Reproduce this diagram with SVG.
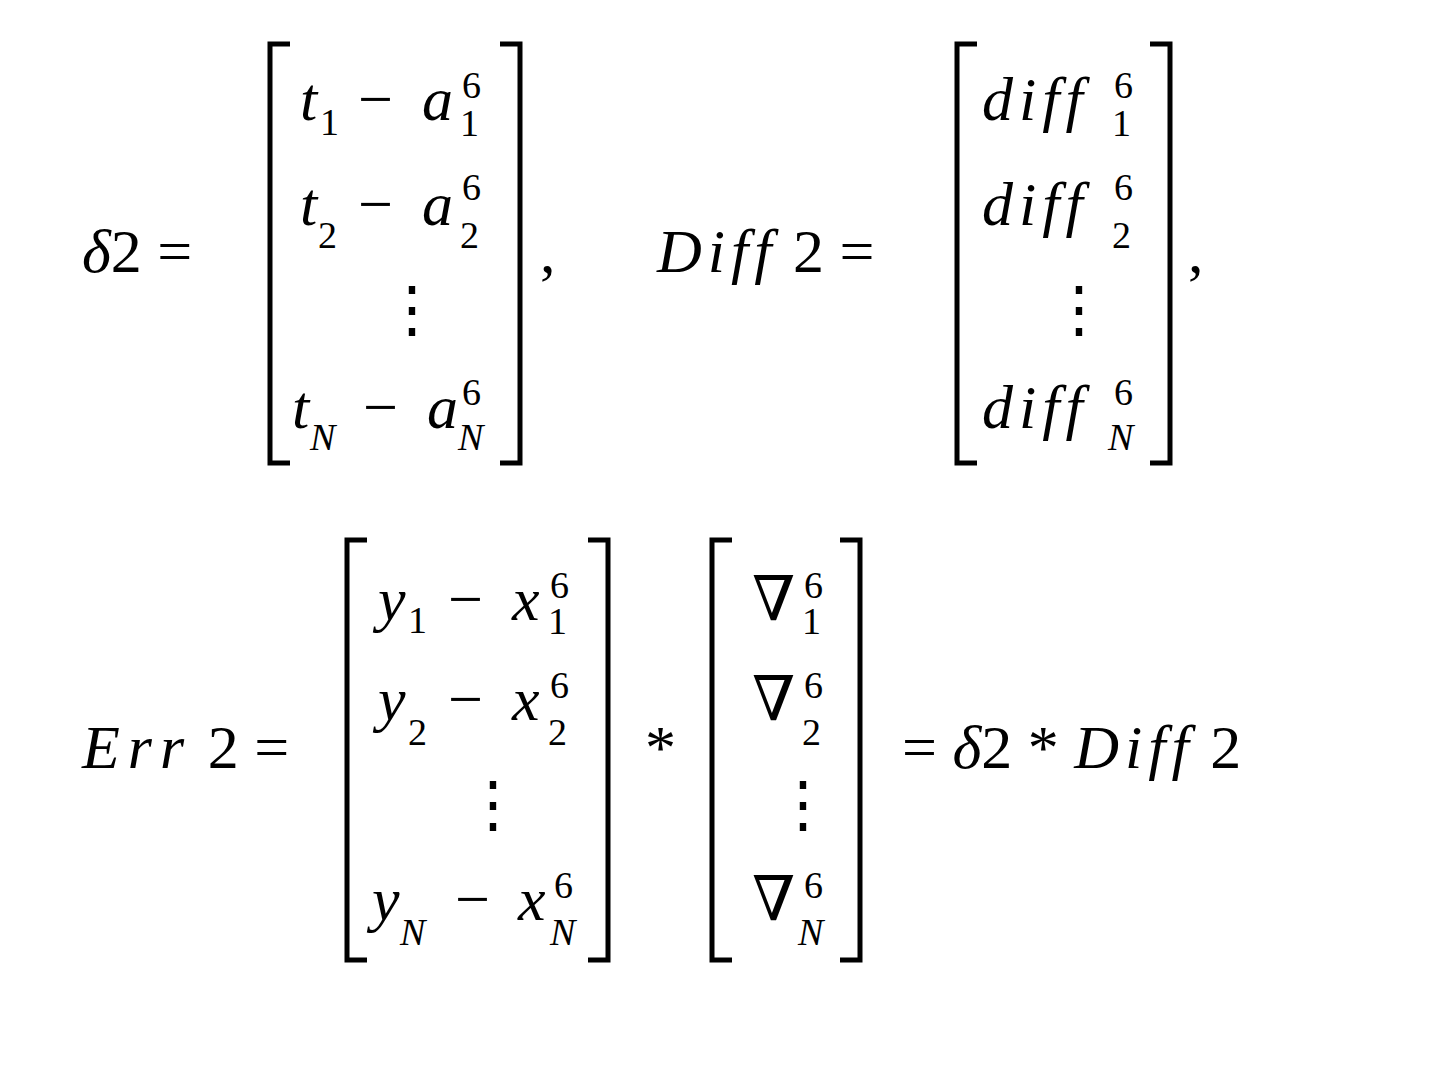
<svg xmlns="http://www.w3.org/2000/svg" width="1455" height="1084" viewBox="0 0 1455 1084">
<style>
text{font-family:"Liberation Serif","Times New Roman","DejaVu Serif",serif;font-variant-ligatures:none}
.m{font-size:62px;fill:#000}
.i{font-style:italic}
.s{font-size:38px;fill:#000}
.b{fill:none;stroke:#000;stroke-width:5}
</style>
<rect width="1455" height="1084" fill="#fff"/>
<text class="m" x="82" y="272"><tspan class="i">δ</tspan>2 =</text>
<path class="b" d="M290,44 H270 V463 H290 M500,44 H520 V463 H500"/>
<text class="m i" x="300" y="120">t</text><text class="s" x="320" y="135">1</text>
<text class="m" x="358" y="120">−</text>
<text class="m i" x="422" y="120">a</text><text class="s" x="462" y="98">6</text><text class="s" x="460" y="136">1</text>
<text class="m i" x="300" y="225">t</text><text class="s" x="318" y="248">2</text>
<text class="m" x="358" y="225">−</text>
<text class="m i" x="422" y="225">a</text><text class="s" x="462" y="200">6</text><text class="s" x="460" y="248">2</text>
<text class="m" x="381" y="330">⋮</text>
<text class="m i" x="292" y="428">t</text><text class="s i" x="310" y="450">N</text>
<text class="m" x="363" y="428">−</text>
<text class="m i" x="427" y="428">a</text><text class="s" x="462" y="405">6</text><text class="s i" x="458" y="450">N</text>
<text class="m" x="540" y="272">,</text>
<text class="m" x="657" y="272"><tspan class="i" letter-spacing="6">Diff</tspan> 2 =</text>
<path class="b" d="M977,44 H957 V463 H977 M1150,44 H1170 V463 H1150"/>
<text class="m i" x="982" y="120" letter-spacing="6">diff</text><text class="s" x="1114" y="98">6</text><text class="s" x="1112" y="136">1</text>
<text class="m i" x="982" y="225" letter-spacing="6">diff</text><text class="s" x="1114" y="200">6</text><text class="s" x="1112" y="248">2</text>
<text class="m" x="1048" y="330">⋮</text>
<text class="m i" x="982" y="428" letter-spacing="6">diff</text><text class="s" x="1114" y="405">6</text><text class="s i" x="1108" y="450">N</text>
<text class="m" x="1188" y="272">,</text>
<text class="m" x="82" y="768"><tspan class="i" letter-spacing="8">Err</tspan> 2 =</text>
<path class="b" d="M367,540 H347 V960 H367 M588,540 H608 V960 H588"/>
<text class="m i" x="378" y="620">y</text><text class="s" x="408" y="633">1</text>
<text class="m" x="448" y="620">−</text>
<text class="m i" x="512" y="620">x</text><text class="s" x="550" y="598">6</text><text class="s" x="548" y="634">1</text>
<text class="m i" x="378" y="720">y</text><text class="s" x="408" y="745">2</text>
<text class="m" x="448" y="720">−</text>
<text class="m i" x="512" y="720">x</text><text class="s" x="550" y="698">6</text><text class="s" x="548" y="745">2</text>
<text class="m" x="462" y="825">⋮</text>
<text class="m i" x="372" y="920">y</text><text class="s i" x="400" y="945">N</text>
<text class="m" x="455" y="920">−</text>
<text class="m i" x="518" y="920">x</text><text class="s" x="554" y="898">6</text><text class="s i" x="550" y="945">N</text>
<text class="m" x="645" y="768">*</text>
<path class="b" d="M732,540 H712 V960 H732 M840,540 H860 V960 H840"/>
<text class="m" x="752" y="620">∇</text><text class="s" x="804" y="598">6</text><text class="s" x="802" y="634">1</text>
<text class="m" x="752" y="720">∇</text><text class="s" x="804" y="698">6</text><text class="s" x="802" y="745">2</text>
<text class="m" x="772" y="825">⋮</text>
<text class="m" x="752" y="920">∇</text><text class="s" x="804" y="898">6</text><text class="s i" x="798" y="945">N</text>
<text class="m" x="902" y="768">= <tspan class="i">δ</tspan>2 * <tspan class="i" letter-spacing="6">Diff</tspan> 2</text>
</svg>
